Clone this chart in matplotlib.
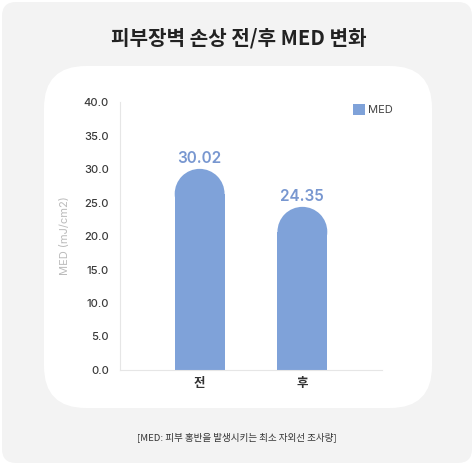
import matplotlib
matplotlib.use('Agg')
import matplotlib.pyplot as plt
from matplotlib.patches import FancyBboxPatch, Ellipse

plt.rcParams['font.family'] = ['Noto Sans CJK KR', 'DejaVu Sans']

categories = ['전', '후']
med_values = [30.02, 24.35]
value_labels = ['30.02', '24.35']
y_ticks = [0, 5, 10, 15, 20, 25, 30, 35, 40]

W, H = 474, 465
bar_color = '#7fa2d9'
label_color = '#7897d0'
num_font = ['Inter', 'DejaVu Sans']

fig = plt.figure(figsize=(W / 100, H / 100), dpi=100)
fig.patch.set_facecolor('white')

# фон: серая панель и белая карточка (в пикселях)
bg = fig.add_axes([0, 0, 1, 1])
bg.set_xlim(0, W)
bg.set_ylim(H, 0)
bg.axis('off')
bg.add_patch(FancyBboxPatch((2, 2), W - 4, H - 4, boxstyle='round,pad=0,rounding_size=14',
                            facecolor='#f3f3f3', edgecolor='none'))
bg.add_patch(FancyBboxPatch((44, 66), 388, 342, boxstyle='round,pad=0,rounding_size=42',
                            facecolor='white', edgecolor='none'))
bg.text(W / 2 + 2, 38, '피부장벽 손상 전/후 MED 변화', ha='center', va='center',
        fontsize=14.5, fontweight='bold', color='#222222')
bg.text(W / 2, 437, '[MED: 피부 홍반을 발생시키는 최소 자외선 조사량]', ha='center', va='center',
        fontsize=6.9, color='#333333')

# область графика
left, right, top, bottom = 120, 382, 102, 370
ax = fig.add_axes([left / W, 1 - bottom / H, (right - left) / W, (bottom - top) / H])
ax.set_facecolor('none')
ax.set_xlim(-0.775, 1.775)
ax.set_ylim(0, 40)

bar_w = 0.485
px_per_unit = (bottom - top) / 40
px_per_x = (right - left) / 2.55
r_y = (bar_w * px_per_x / 2) / px_per_unit

x = list(range(len(categories)))
heights = [v - r_y for v in med_values]
ax.bar(x, heights, width=bar_w, color=bar_color, zorder=2, label='MED')
for xi, v, lab in zip(x, med_values, value_labels):
    ax.add_patch(Ellipse((xi, v - r_y), bar_w, 2 * r_y, facecolor=bar_color,
                         edgecolor='none', zorder=2))
    ax.text(xi, v + 0.4, lab, ha='center', va='bottom', fontsize=11,
            color=label_color, fontweight='semibold', family=num_font)

ax.set_yticks(y_ticks)
ax.set_yticklabels([f'{t:.1f}' for t in y_ticks], fontsize=8, color='#3a3a3a',
                   family=num_font, fontweight='medium')
ax.set_xticks(x)
ax.set_xticklabels(categories, fontsize=9, color='#333333', fontweight='bold')
ax.tick_params(length=0, axis='y', pad=8)
ax.tick_params(length=0, axis='x', pad=5)
ax.set_ylabel('MED (mJ/cm2)', fontsize=8, color='#bbbbbb', labelpad=10, family=num_font)

for s in ['top', 'right']:
    ax.spines[s].set_visible(False)
ax.spines['left'].set_color('#e6e6e6')
ax.spines['bottom'].set_color('#e6e6e6')

leg = ax.legend(loc='upper right', bbox_to_anchor=(1.08, 1.03), frameon=False,
                prop={'family': num_font, 'size': 8},
                handlelength=1.1, handleheight=1.1, handletextpad=0.3)
for t in leg.get_texts():
    t.set_color('#444444')

fig.savefig('out.png', dpi=100)
